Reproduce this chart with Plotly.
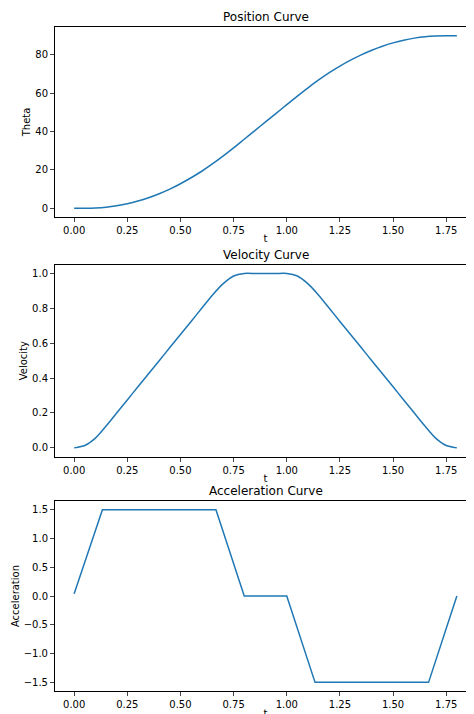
import plotly.graph_objects as go
from plotly.subplots import make_subplots

t_grid = [round(i * 0.05, 2) for i in range(37)]
velocity = [0, 0.014, 0.056, 0.125, 0.2, 0.275, 0.35, 0.425, 0.5, 0.575, 0.65, 0.725, 0.8, 0.875,
            0.94, 0.985, 1.0, 1.0, 1.0, 1.0, 1.0, 0.985, 0.94, 0.875, 0.8, 0.725, 0.65, 0.575, 0.5,
            0.425, 0.35, 0.275, 0.2, 0.125, 0.056, 0.014, 0]
pos_half = [0, 0.02, 0.17, 0.57, 1.3, 2.37, 3.78, 5.52, 7.6, 10.0, 12.8, 15.9, 19.3, 23.1,
            27.2, 31.5, 36.0, 40.5, 45.0]
position = pos_half + [round(90 - v, 2) for v in reversed(pos_half[:-1])]
acc_t = [0.0, 0.133, 0.667, 0.8, 1.0, 1.133, 1.667, 1.8]
acc_v = [0.04, 1.5, 1.5, 0.0, 0.0, -1.5, -1.5, 0.0]

C = "#1f77b4"
fig = make_subplots(rows=3, cols=1)
fig.add_trace(go.Scatter(x=t_grid, y=position, mode="lines", line=dict(color=C, width=1.5, shape="spline")), 1, 1)
fig.add_trace(go.Scatter(x=t_grid, y=velocity, mode="lines", line=dict(color=C, width=1.5, shape="spline", smoothing=0.6)), 2, 1)
fig.add_trace(go.Scatter(x=acc_t, y=acc_v, mode="lines", line=dict(color=C, width=1.5)), 3, 1)

doms = [[0.714, 1.0], [0.353, 0.642], [0.0, 0.286]]
titles = ["Position Curve", "Velocity Curve", "Acceleration Curve"]
ylabels = ["Theta", "Velocity", "Acceleration"]
yranges = [[-4.5, 94.5], [-0.05, 1.05], [-1.65, 1.65]]
ydt = [20, 0.2, 0.5]
yfmt = ["d", ".1f", ".1f"]
ax = dict(showline=True, linecolor="black", mirror=True, ticks="outside", showgrid=False,
          zeroline=False, tickfont=dict(size=10, color="black"), ticklen=4, automargin=False)
for i in range(3):
    n = "" if i == 0 else str(i + 1)
    fig.layout["xaxis" + n].update(domain=[0, 1], range=[-0.09, 1.89], dtick=0.25, tick0=0,
                                   tickformat=".2f", title=dict(text="t", standoff=0, font=dict(size=10)), **ax)
    fig.layout["yaxis" + n].update(domain=doms[i], range=yranges[i], dtick=ydt[i], tick0=0,
                                   tickformat=yfmt[i], title=dict(text=ylabels[i], standoff=2, font=dict(size=10)), **ax)
    fig.add_annotation(text=titles[i], xref="paper", yref="paper", x=0.5, y=doms[i][1],
                       yanchor="bottom", yshift=1, showarrow=False, font=dict(size=12, color="black"))

fig.update_layout(width=474, height=714, showlegend=False, plot_bgcolor="white", paper_bgcolor="white",
                  margin=dict(l=47, r=6, t=19, b=31, autoexpand=False),
                  font=dict(family="DejaVu Sans", color="black"))
fig.write_html("out.html")
